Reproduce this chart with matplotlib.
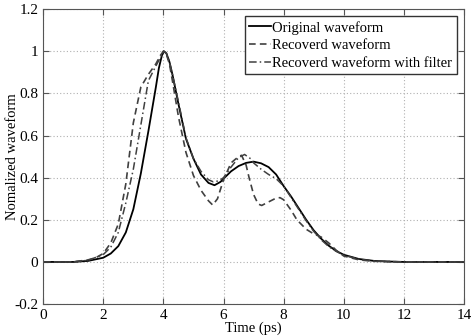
import matplotlib
matplotlib.use('Agg')
import matplotlib.pyplot as plt

# original waveform
t_orig = [0, 1.0, 1.5, 2.0, 2.25, 2.5, 2.75, 3.0, 3.25, 3.5, 3.75, 3.85, 3.95, 4.02, 4.1,
          4.2, 4.3, 4.5, 4.75, 5.0, 5.25, 5.5, 5.7, 5.9, 6.0, 6.25, 6.5, 6.75, 7.0,
          7.25, 7.5, 7.75, 8.0, 8.25, 8.5, 8.75, 9.0, 9.25, 9.5, 9.75, 10.0,
          10.5, 11.0, 11.5, 12.0, 14.0]
y_orig = [0, 0.0, 0.005, 0.02, 0.04, 0.075, 0.14, 0.25, 0.42, 0.62, 0.83, 0.92, 0.98, 1.0, 0.99,
          0.95, 0.89, 0.75, 0.585, 0.49, 0.415, 0.375, 0.364, 0.38, 0.395, 0.43, 0.455, 0.47, 0.476,
          0.468, 0.45, 0.415, 0.36, 0.31, 0.255, 0.2, 0.15, 0.11, 0.077, 0.052, 0.034,
          0.014, 0.005, 0.002, 0.0, 0.0]

# recovered waveform
t_rec = [0, 1.0, 1.5, 1.75, 2.0, 2.25, 2.5, 2.75, 3.0, 3.25, 3.5, 3.75, 3.9, 4.0, 4.1,
         4.2, 4.3, 4.5, 4.75, 5.0, 5.25, 5.5, 5.64, 5.8, 6.0, 6.25, 6.5, 6.6, 6.75, 6.85,
         7.0, 7.15, 7.27, 7.5, 7.75, 7.88, 8.0, 8.25, 8.44, 8.75, 9.0, 9.25, 9.5,
         9.75, 10.0, 10.5, 11.0, 12.0, 14.0]
y_rec = [0, 0.0, 0.01, 0.02, 0.04, 0.09, 0.18, 0.37, 0.66, 0.83, 0.89, 0.94, 0.98, 1.0, 0.985,
         0.94, 0.86, 0.69, 0.52, 0.41, 0.34, 0.29, 0.27, 0.3, 0.39, 0.47, 0.5, 0.506, 0.46, 0.4,
         0.32, 0.275, 0.268, 0.285, 0.303, 0.305, 0.295, 0.245, 0.2, 0.155, 0.133, 0.118, 0.09,
         0.055, 0.028, 0.01, 0.003, 0.0, 0.0]

# recovered waveform with filter
t_filt = [0, 1.0, 1.5, 2.0, 2.25, 2.5, 2.75, 3.0, 3.25, 3.5, 3.75, 3.9, 4.0, 4.1,
          4.2, 4.3, 4.5, 4.75, 5.0, 5.25, 5.5, 5.66, 5.85, 6.0, 6.25, 6.5, 6.7, 6.9, 7.0,
          7.25, 7.5, 7.75, 8.0, 8.25, 8.5, 8.75, 9.0, 9.25, 9.5, 9.75, 10.0, 10.5,
          11.0, 12.0, 14.0]
y_filt = [0, 0.0, 0.008, 0.035, 0.07, 0.14, 0.28, 0.44, 0.65, 0.86, 0.93, 0.97, 1.0, 0.99,
          0.95, 0.89, 0.76, 0.59, 0.49, 0.43, 0.39, 0.38, 0.385, 0.4, 0.45, 0.495, 0.51, 0.49, 0.47,
          0.44, 0.415, 0.395, 0.36, 0.305, 0.25, 0.195, 0.145, 0.105, 0.073, 0.05, 0.032, 0.013,
          0.004, 0.0, 0.0]

plt.rcParams['font.family'] = ['Liberation Serif', 'DejaVu Serif']

fig = plt.figure(figsize=(4.74, 3.36), dpi=100)
ax = fig.add_axes([0.091, 0.095, 0.888, 0.878])

ax.plot(t_orig, y_orig, color='black', lw=1.3, label='Original waveform')
ax.plot(t_rec, y_rec, color='#404040', lw=1.2, ls=(0, (4, 2.5)), label='Recoverd waveform')
ax.plot(t_filt, y_filt, color='#404040', lw=1.1, ls=(0, (5, 2, 1, 2)),
        label='Recoverd waveform with filter')

ax.set_xlim(0, 14)
ax.set_ylim(-0.2, 1.2)
ax.set_xticks(range(0, 15, 2))
ax.set_yticks([-0.2, 0, 0.2, 0.4, 0.6, 0.8, 1.0, 1.2])
ax.set_yticklabels(['-0.2', '0', '0.2', '0.4', '0.6', '0.8', '1', '1.2'])
ax.grid(True, ls=(0, (1, 2)), color='#b0b0b0', lw=0.8)
ax.tick_params(direction='in', top=True, right=True, labelsize=11, length=4, color='#555555')
for s in ax.spines.values():
    s.set_color('#555555')

ax.set_xlabel('Time (ps)', fontsize=10.5, labelpad=0)
ax.set_ylabel('Nomalized waveform', fontsize=10.5)
ax.yaxis.set_label_coords(-0.058, 0.5)

leg = ax.legend(loc='upper right', fontsize=10.5, handlelength=1.5, handletextpad=0.1,
                borderpad=0.3, labelspacing=0.3, borderaxespad=0.5, fancybox=False,
                framealpha=1)
leg.get_frame().set_edgecolor('#333333')
leg.get_frame().set_linewidth(1.0)

fig.savefig('out.png', dpi=100)
